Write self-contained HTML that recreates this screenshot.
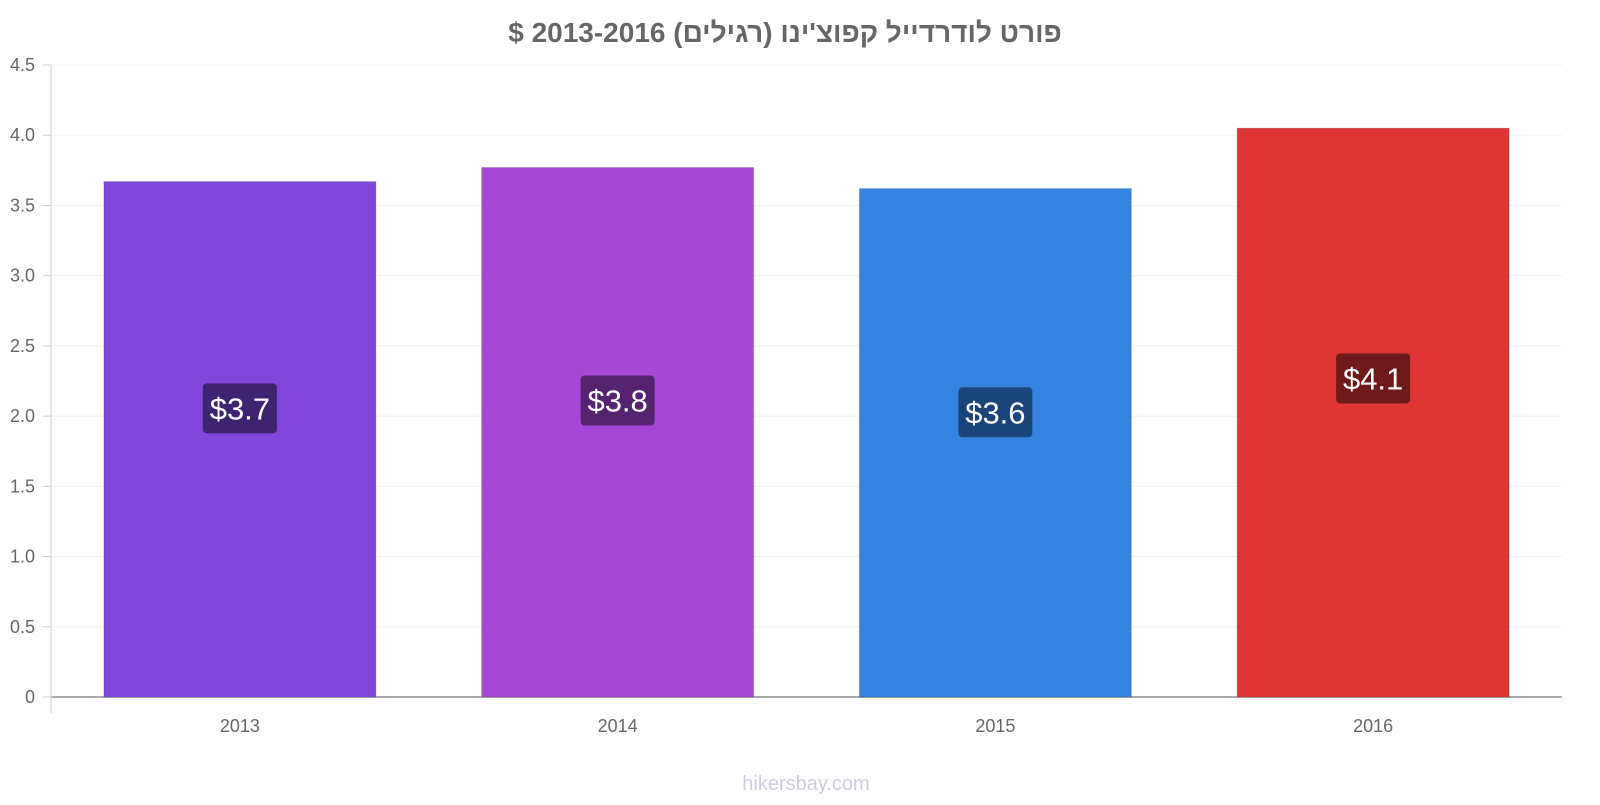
<!DOCTYPE html>
<html><head><meta charset="utf-8"><style>
body{margin:0;background:#fff;font-family:"Liberation Sans",sans-serif;}
svg text{font-family:"Liberation Sans",sans-serif;}
</style></head><body>
<svg width="1600" height="800" viewBox="0 0 1600 800">
<text x="785" y="42" text-anchor="middle" font-size="28" font-weight="bold" fill="#666" direction="rtl">פורט לודרדייל קפוצ'ינו (רגילים) 2013-2016 $</text>
<g id="grid"></g>
<g id="bars"></g>
<g id="axes"></g>
<text x="806" y="790" text-anchor="middle" font-size="20" fill="#ccd">hikersbay.com</text>
</svg>
<script>
const categories=["2013","2014","2015","2016"];
const values=[3.67,3.77,3.62,4.05];
const labels=["$3.7","$3.8","$3.6","$4.1"];
const yTicks=[0,0.5,1.0,1.5,2.0,2.5,3.0,3.5,4.0,4.5];
const yTickLabels=["0","0.5","1.0","1.5","2.0","2.5","3.0","3.5","4.0","4.5"];
const colors=["#8047d8","#a647d8","#3583e0","#e03535"];
const labelBg=["#3e2370","#55236f","#1b4478","#6f1a1a"];
const NS="http://www.w3.org/2000/svg";
const x0=51,x1=1562,y0=697,yTop=65,yMax=4.5;
const y=v=>y0-(v/yMax)*(y0-yTop);
const band=(x1-x0)/categories.length;
const bx=i=>x0+band*i+band/2;
function mk(t,a,p){const e=document.createElementNS(NS,t);for(const k in a)e.setAttribute(k,a[k]);p.appendChild(e);return e;}
const grid=document.getElementById('grid'),bars=document.getElementById('bars'),axes=document.getElementById('axes');
yTicks.forEach((t,i)=>{
 const l=mk('line',{x1:x0,x2:x1,y1:y(t),y2:y(t),stroke:t===0?"#aaa":"#f0f0f0","stroke-width":t===0?2:1},grid);
 
 
 const tk=mk('line',{x1:x0-8,x2:x0,y1:y(t),y2:y(t),stroke:"#ccc"},axes);
 
 
 const tx=mk('text',{x:x0-16,y:y(t)+6,"text-anchor":"end","font-size":18,fill:"#666"},axes);
 tx.textContent=yTickLabels[i];
 
 
});
const ax=mk('line',{x1:x0,x2:x0,y1:yTop,y2:713,stroke:"#ccc"},axes);


const bw=band*0.72;
categories.forEach((c,i)=>{
 const r=mk('rect',{x:bx(i)-bw/2,y:y(values[i]),width:bw,height:y0-y(values[i]),fill:colors[i],stroke:"rgba(0,0,0,0.15)"},bars);
 
 
 const ly=y(values[i]*0.56);
 const bg=mk('rect',{x:bx(i)-37,y:ly-25,width:74,height:50,rx:4,fill:labelBg[i]},bars);
 
 
 const t=mk('text',{x:bx(i),y:ly+11,"text-anchor":"middle","font-size":31,fill:"#fff"},bars);
 t.textContent=labels[i];
 
 
 const xt=mk('text',{x:bx(i),y:732,"text-anchor":"middle","font-size":18,fill:"#666"},axes);
 xt.textContent=c;
 
 
});
</script>
</body></html>
